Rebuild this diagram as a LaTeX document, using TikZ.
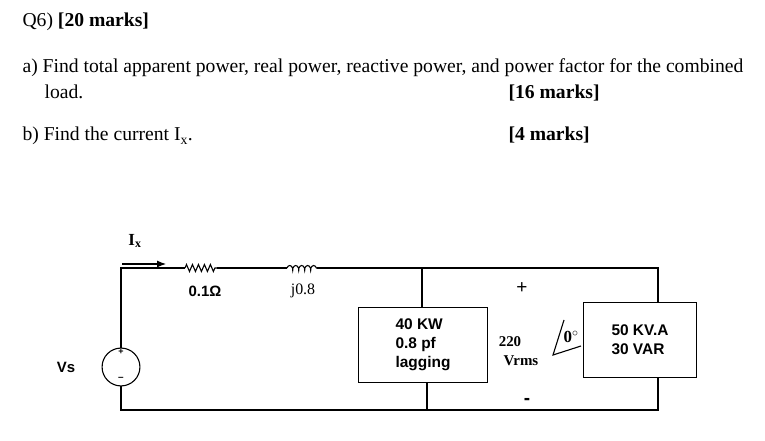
\documentclass[tikz,border=0pt]{standalone}
\usepackage{fontspec}
\setmainfont{Liberation Serif}
\setsansfont{Liberation Sans}
\usetikzlibrary{decorations.pathmorphing,arrows.meta}
\begin{document}
\begin{tikzpicture}[x=1bp,y=-1bp,line width=1.1bp,
  txt/.style={inner sep=0,anchor=base west,font=\fontsize{19.7}{22}\selectfont},
  boxt/.style={align=left,font=\sffamily\bfseries\fontsize{15.5}{19}\selectfont},
  lbl/.style={inner sep=0,font=\fontsize{16}{18}\selectfont}]
\useasboundingbox (0,0) rectangle (765,441);
\node[txt] (t0) at (22,27) {Q6) \textbf{[20 marks]}};
\node[txt] (t1) at (22,73) {a) Find total apparent power, real power, reactive power, and power factor for the combined};
\node[txt] (t2) at (44,99) {load.};
\node[txt] (t3) at (508,99) {\textbf{[16 marks]}};
\node[txt] (t4) at (22,141) {b) Find the current I\textsubscript{x}.};
\node[txt] (t5) at (508,141) {\textbf{[4 marks]}};
% circuit
\coordinate (tl) at (121,268); \coordinate (bl) at (121,410);
\coordinate (r1) at (185,268); \coordinate (r2) at (217,268);
\coordinate (l1) at (287,268); \coordinate (l2) at (317,268);
\coordinate (tr) at (658,268); \coordinate (br) at (658,410);
\node[draw,minimum width=130,minimum height=76,boxt] (b1) at (423,345) {40 KW\\0.8 pf\\lagging};
\node[draw,minimum width=114,minimum height=76,boxt] (b2) at (640,340) {50 KV.A\\30 VAR};
\node[draw,circle,minimum size=38,inner sep=0] (vs) at (121,367) {};
\node[font=\sffamily\fontsize{9}{9}\selectfont\bfseries] (vp) at (121,352) {+};
\node[font=\sffamily\fontsize{10}{10}\selectfont\bfseries] (vm) at (121,379) {--};
\draw (vs.north) -- (tl) -- (r1);
\draw[decorate,decoration={zigzag,segment length=6,amplitude=3.5}] (r1) -- (r2);
\draw (r2) -- (l1);
\draw[decorate,decoration={coil,aspect=0.5,segment length=6,amplitude=2.5}] (l1) -- (l2);
\draw (l2) -- (tr) -- (b2.north -| tr);
\draw (b2.south -| br) -- (br) -- (bl) -- (vs.south);
\draw (b1.north -| 422,0) -- (422,268);
\draw (b1.south -| 427,0) -- (427,410);
\node[lbl,font=\sffamily\bfseries\fontsize{15}{17}\selectfont] (rl) at (205,291) {0.1Ω};
\node[lbl] (ll) at (303,291) {j0.8};
\node[lbl,font=\bfseries\fontsize{17}{19}\selectfont] (ix) at (135,241) {I\textsubscript{x}};
\coordinate (a1) at (122,264); \coordinate (a2) at (166,264);
\draw[-{Latex[length=9,width=7]}] (a1) -- (a2);
\node[font=\sffamily\bfseries\fontsize{15}{17}\selectfont] (vsl) at (66,367) {Vs};
\node[font=\sffamily\fontsize{19}{19}\selectfont] (pl) at (522,288) {+};
\node[font=\sffamily\bfseries\fontsize{19}{19}\selectfont] (mi) at (527,401) {-};
\node[font=\bfseries\fontsize{15}{17}\selectfont] (v1) at (510,342) {220};
\node[font=\bfseries\fontsize{15}{17}\selectfont] (v2) at (521,361) {Vrms};
\coordinate (g1) at (564,320); \coordinate (g2) at (553,355); \coordinate (g3) at (581,346);
\draw (g1) -- (g2) -- (g3);
\node[font=\bfseries\fontsize{17}{17}\selectfont] (deg) at (571,337) {0$^\circ$};
\end{tikzpicture}
\end{document}
